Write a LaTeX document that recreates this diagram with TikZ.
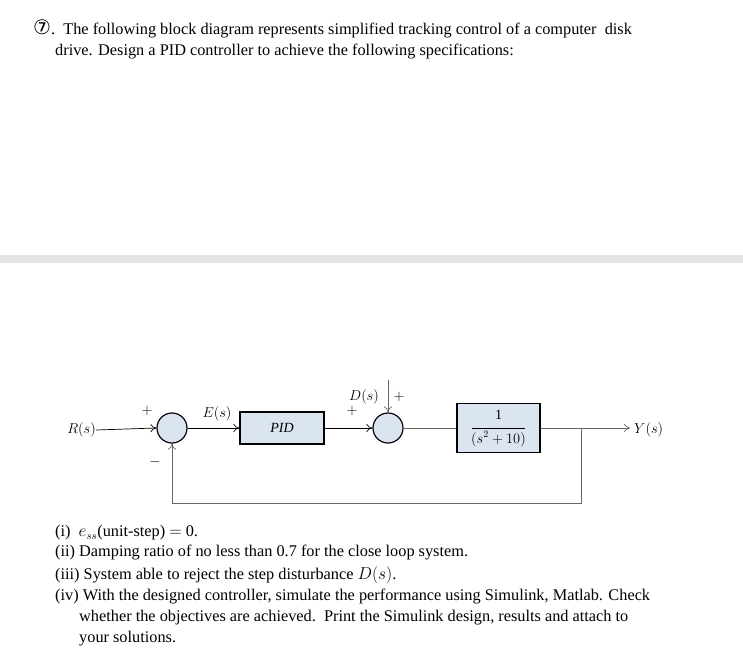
\documentclass[tikz,border=0pt]{standalone}
\usepackage{fontspec}
\setmainfont{Liberation Serif}
\newfontfamily\dejavu{DejaVu Sans}
\usetikzlibrary{arrows.meta}
\definecolor{blk}{HTML}{DBE5F1}
\begin{document}
\begin{tikzpicture}[x=1pt,y=-1pt,
  txt/.style={anchor=west,inner sep=0pt,font=\fontsize{16.3}{19}\selectfont},
  blockb/.style={draw,line width=1.2pt,fill=blk,inner sep=0pt},
  sumc/.style={circle,draw,line width=1.2pt,fill=blk,minimum size=30pt,inner sep=0pt},
  sig/.style={draw,line width=0.7pt,-{To[length=6pt,width=8pt]}},
  lbl/.style={inner sep=0pt,font=\fontsize{14}{16}\selectfont}]
\useasboundingbox (0,0) rectangle (743,663);
\fill[gray!20] (0,255) rectangle (743,263);
\node[txt] (t1) at (33,29) {{\dejavu\fontsize{20}{20}\selectfont ⑦}.\enspace The following block diagram represents simplified tracking control of a computer\ \  disk};
\node[txt] (t2) at (55,52) {drive. Design a PID controller to achieve the following specifications:};
% diagram
\node[sumc] (s1) at (172,428) {};
\node[sumc] (s2) at (388,428) {};
\node[blockb,minimum width=84pt,minimum height=32pt,font=\fontsize{14}{16}\selectfont] (pid) at (282,428) {\itshape PID};
\node[blockb,minimum width=83pt,minimum height=49pt] (g) at (498.5,428) {};
\node[lbl] (gn) at (498.5,415) {1};
\node[lbl] (gd) at (498.5,439) {$(s^2+10)$};
\draw[line width=0.5pt] (472,428) -- (525,428);
\node[lbl,anchor=east] (r) at (96,430) {$R(s)$};
\node[lbl,anchor=west] (y) at (634,430) {$Y(s)$};
\coordinate (yend) at (630,428);
\coordinate (tap) at (581,428);
\coordinate (fb1) at (581,503);
\coordinate (fb2) at (172,503);
\coordinate (dtop) at (388,380);
\node[lbl] (e) at (217,414) {$E(s)$};
\node[lbl] (d) at (364,397) {$D(s)$};
\node[lbl] (p1) at (147,411) {$+$};
\node[lbl] (m1) at (155,462) {$-$};
\node[lbl] (p2) at (352,411) {$+$};
\node[lbl] (p3) at (399,397) {$+$};
\draw[sig] (r.east) -- (s1.west);
\draw[sig] (s1.east) -- (pid.west);
\draw[sig] (pid.east) -- (s2.west);
\draw[line width=0.7pt,gray!80!black] (s2.east) -- (g.west);
\draw[sig,gray!80!black] (g.east) -- (yend);
\draw[sig,gray!80!black] (tap) -- (fb1) -- (fb2) -- (s1.south);
\draw[sig,gray!80!black] (dtop) -- (s2.north);
% items
\node[txt] (i1) at (55,533) {(i)\ \ $e_{ss}$(unit-step) $=$ 0.};
\node[txt] (i2) at (55,553) {(ii) Damping ratio of no less than 0.7 for the close loop system.};
\node[txt] (i3) at (55,575) {(iii) System able to reject the step disturbance $D(s)$.};
\node[txt] (i4) at (55,597) {(iv) With the designed controller, simulate the performance using Simulink, Matlab. Check};
\node[txt] (i5) at (79,618) {whether the objectives are achieved.\enspace Print the Simulink design, results and attach to};
\node[txt] (i6) at (79,639) {your solutions.};
\end{tikzpicture}
\end{document}
